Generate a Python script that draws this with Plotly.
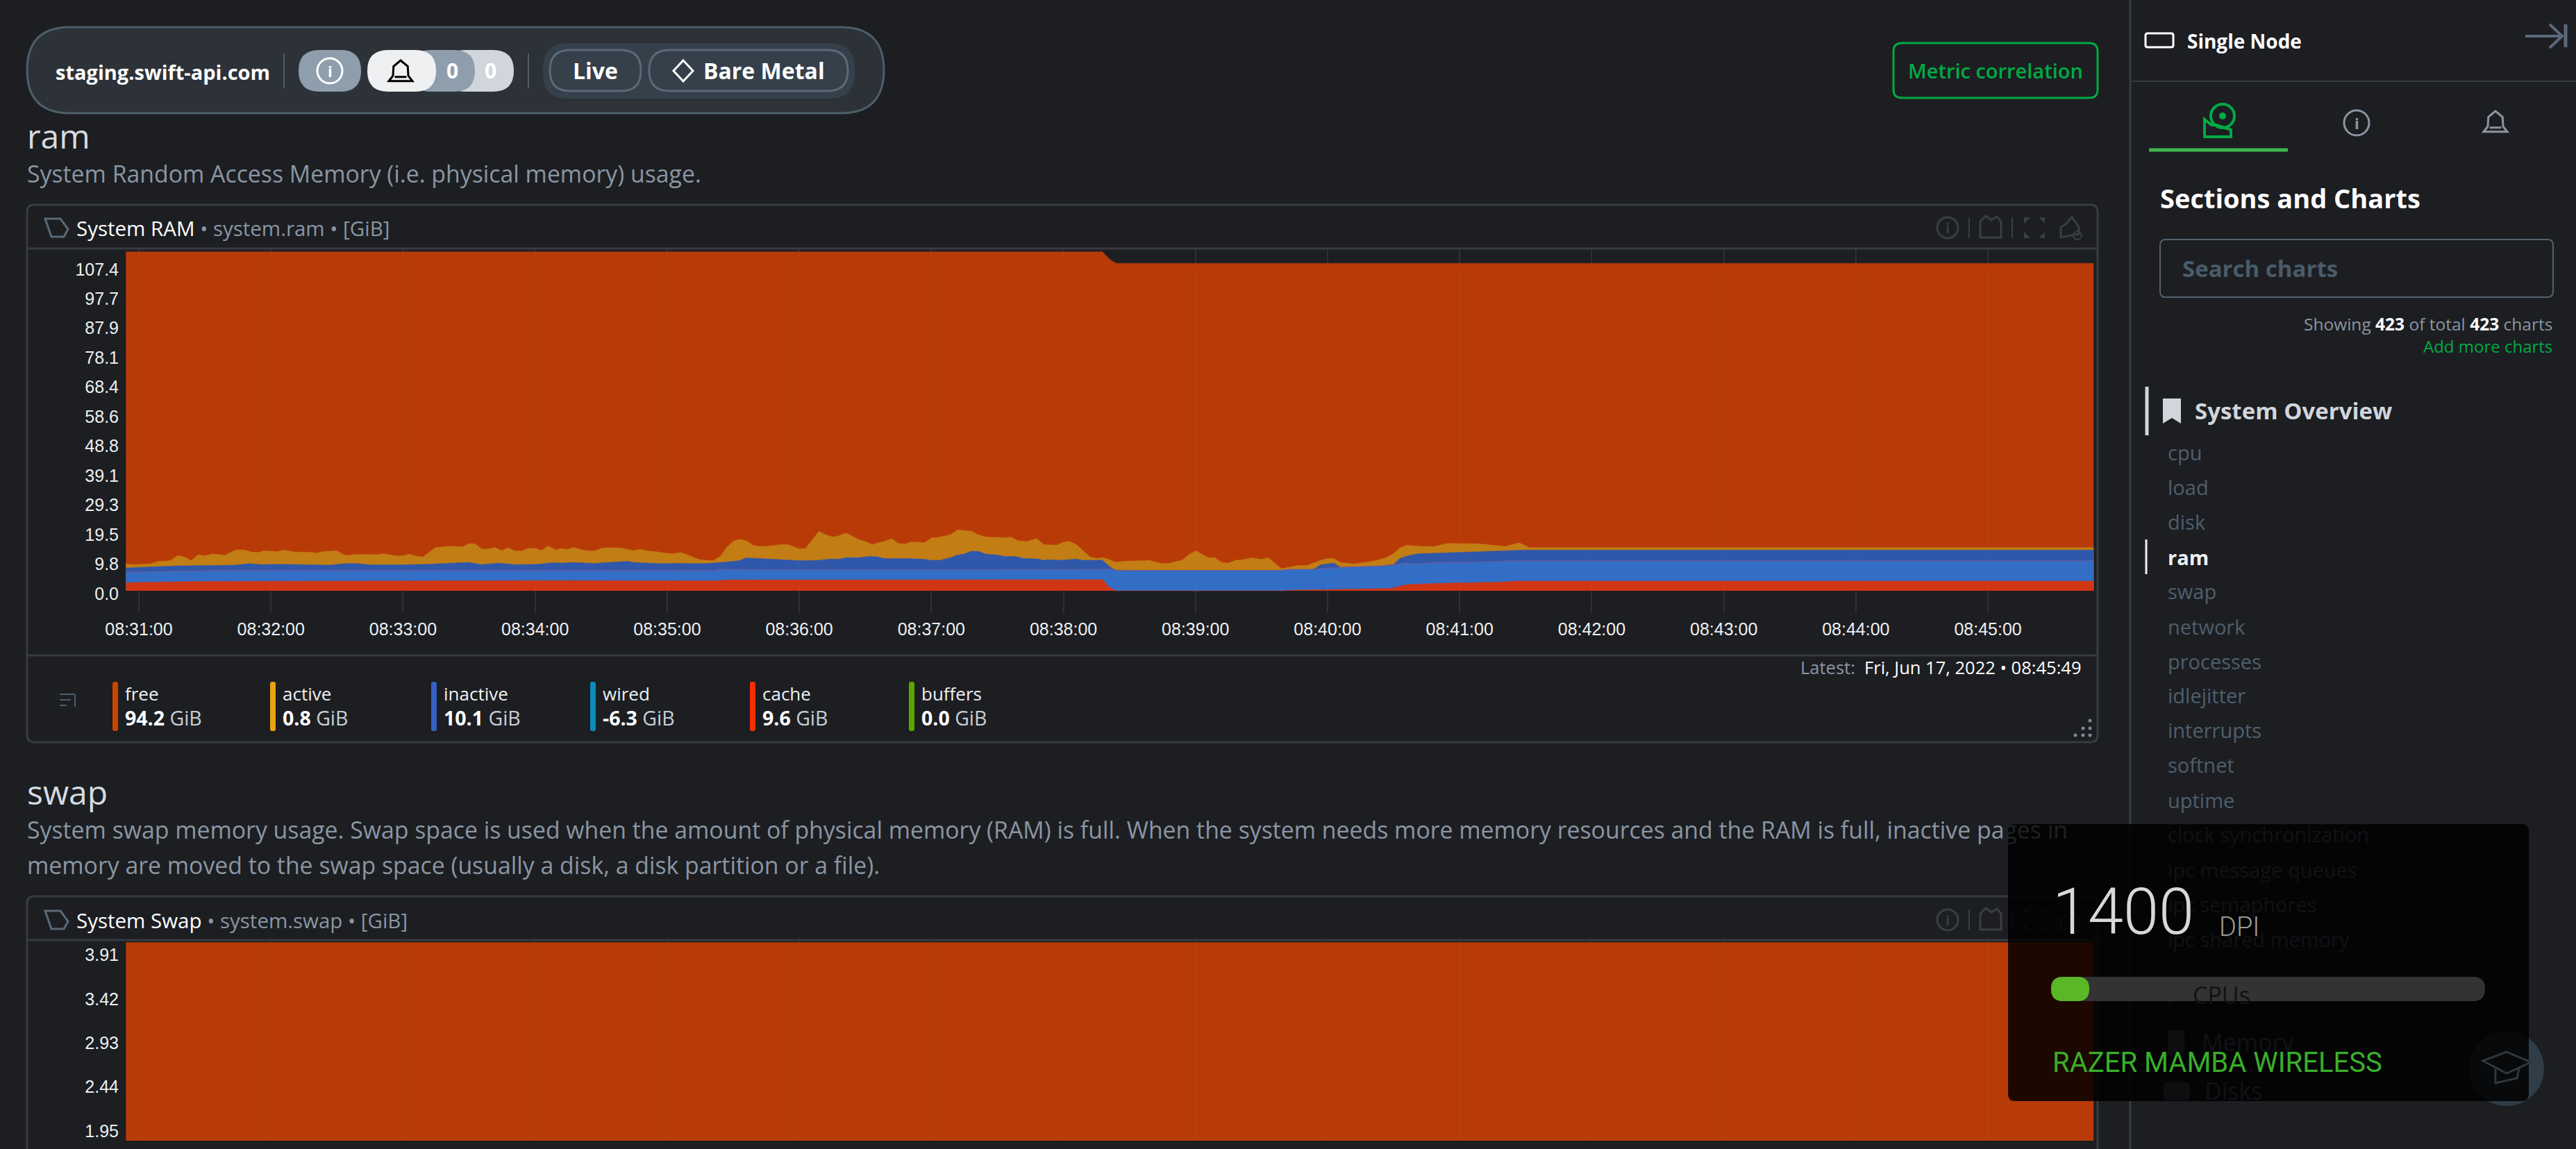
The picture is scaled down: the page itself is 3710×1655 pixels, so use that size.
import pandas as pd
import plotly.graph_objects as go

W, H = 3710, 1655

# everything, seconds are counted from 08:31:00
total_sec = [-5.9, 437.7, 440.9, 444, 888]
total_top = [112.3, 112.3, 109.9, 108.5, 108.5]

active_sec = [-5.9, -2.5, 5, 8.7, 14.3, 17.7, 20.8, 23.8, 26.8, 30.3, 33, 36.2, 38.9, 41.8, 44.6, 48.1, 51.4, 54.2,
              56.7, 63, 65.8, 71.1, 77.6, 80.4, 83.5, 89.8, 92.9, 95.4, 98.3, 107.9, 111, 114.1, 116.6, 120.1, 122.8,
              125.9, 129, 134.7, 140.9, 147.4, 149.6, 152.7, 155.9, 159, 161.8, 164.8, 167.8, 170.8, 173.9, 177,
              180.2, 183, 185.8,
              189.2, 191.9, 194.8, 197.7, 201, 204.2, 207, 209.8, 212.6, 219.1, 224.7, 227.9, 231, 236.6, 239.7,
              242.8, 246, 249, 252.2, 254.9, 260.9, 264, 267.1, 270, 273, 275.9, 279.2, 282.1, 285.8, 291.4, 294.6,
              297, 299.9, 302.9, 308.9, 312, 315.1, 318, 321.1, 327, 330.1, 333.2, 336.3, 338.8, 341.9, 345, 347.8,
              350.9, 356.9, 360, 363.1, 368.8, 371.9, 378.1, 381.2, 384.7,
              393.4, 395.9, 399.4, 403.4, 407.8, 411.1, 416.9, 419.9, 422.7, 425.8, 432.1, 435.2, 437.9, 440.8,
              443.9, 447, 452.7, 458.9, 464.5, 468, 473.9, 477, 480.1, 485.7, 488.8, 491.9, 495, 498.2, 501.3, 505.6,
              510, 513.1, 516.2, 519.1, 522.5, 526.8, 530.6, 533.3, 536.8, 539.9, 542.8, 545.8, 551.8, 560.5, 566.7,
              569.9, 573, 576.1,
              583.1, 588.7, 594.3, 608.6, 620.7, 627, 631.8, 888]
active_top = [8.9, 8.7, 8.9, 9.7, 10.0, 11.7, 11.2, 10.0, 11.9, 11.6, 12.2, 12.1, 11.7, 12.8, 13.6, 13.5, 12.8, 12.7,
              13.3, 13.0, 13.5, 12.8, 12.8, 12.5, 13.0, 13.3, 12.0, 11.7, 12.1, 12.0, 12.3, 12.0, 11.6, 11.6, 12.2,
              11.5, 11.2, 14.3, 14.8, 14.6, 15.6, 15.6, 13.8, 13.9, 14.3, 13.3, 14.3, 13.2, 13.2, 14.1,
              14.0, 13.4, 14.9,
              13.6, 14.0, 13.7, 14.4, 13.6, 13.2, 13.2, 14.0, 14.3, 14.2, 13.3, 13.8, 13.2, 12.8, 12.4,
              12.3, 12.7, 12.0, 11.0, 10.3, 10.0, 11.3, 14.4, 16.4, 17.1, 16.6, 15.0, 14.7, 14.8, 15.3, 15.3,
              14.8, 13.9, 14.1, 19.7, 18.6, 17.8, 18.2, 19.2, 17.0, 16.3, 15.3, 16.0, 16.4, 17.3, 15.7, 15.5,
              16.2, 16.0, 17.5, 17.7, 18.6, 20.2, 19.8, 18.6, 17.8,
              17.6, 17.9, 16.6, 16.3, 17.3, 15.3, 15.1, 16.1, 16.4, 15.4, 11.2, 10.7, 11.0, 10.4,
              9.4, 9.8, 9.9, 10.1, 9.1, 9.1, 10.2, 12.0, 13.3, 11.0, 11.0, 9.4, 9.2, 10.1, 10.3, 10.9,
              10.4, 11.0, 9.1, 7.3, 7.8, 8.4, 8.4, 9.1, 10.1, 10.7, 10.7, 9.4, 8.9, 9.8, 11.0,
              12.3, 14.3, 15.1,
              14.7, 14.7, 15.7, 15.6, 14.7, 15.9, 14.3, 14.3]

inactive_sec = [-5.9, 6.2, 18.7, 43.6, 49.9, 56.1, 63.6, 73.6, 86, 93.5, 99.1, 105.4, 118.5, 130.9, 149.6, 155.9,
                163.3, 170.8, 182, 185.8, 189.3,
                192.3, 196.7, 206.7, 216.6, 221.9, 224.7, 234.1, 237.2, 244, 256.5, 267.8, 272.7, 275.9, 291.4,
                300.2, 308.9, 313.9, 318.2, 321.4, 327, 331.3, 335.1, 338.8, 348.8, 356.3, 360, 363.8, 368.8,
                371.9, 375, 378.1, 381.2, 384.7,
                390.9, 393.4, 398.4, 402.2, 408.4, 410.9, 414, 418.4, 425.8, 429, 437.7, 441.4, 443.9, 484.5,
                519.1, 533.7, 536.8, 542.8, 545.8, 551.8, 559.3, 564.3, 569.9, 573, 576.1,
                581, 589.8, 607.6, 620.7, 629.6, 888]
inactive_top = [7.6, 8.0, 8.3, 8.5, 9.0, 8.7, 8.8, 8.7, 8.5, 9.0, 9.0, 8.6, 8.6, 8.8, 9.4, 8.7,
                9.2, 8.7, 8.8, 9.2, 9.3,
                9.2, 9.4, 9.1, 9.5, 9.8, 9.4, 9.2, 9.0, 9.1, 9.0, 9.6, 10.0, 10.9, 10.3,
                10.0, 10.1, 10.5, 10.5, 11.0, 11.0, 11.4, 11.3, 10.7, 10.7, 10.5, 10.1, 10.1, 11.0,
                11.9, 12.2, 13.1, 13.1, 12.2,
                11.8, 11.4, 11.4, 10.7, 10.6, 10.1, 10.3, 10.1, 10.5, 10.1, 10.2, 7.8, 6.8, 6.8,
                6.7, 7.1, 8.6, 9.2, 7.8, 7.8, 8.0, 8.2, 8.7, 10.8, 11.5,
                12.3, 12.5, 12.9, 13.3, 13.5, 13.5]

wired_sec = [-5.9, 18.7, 31, 189.3, 260.9, 263.8, 276.5, 384.7, 437.7, 440.8, 443.9, 479.5, 518.7, 521.9, 533.1,
             545.6, 569.2, 575.5, 580.2, 589.8, 618.5, 621.8, 888]
wired_top = [6.1, 6.4, 6.6, 6.7, 6.6, 7.1, 6.9, 6.9, 7.1, 7.3, 6.6, 6.7, 6.7, 7.0, 7.1,
             7.7, 8.3, 9.2, 8.9, 9.3, 9.6, 9.9, 9.9]

cache_sec = [-5.9, 6.2, 26.2, 189.3, 224.1, 251.5, 261.5, 267.1, 384.7, 438, 440.8, 443.9, 520, 521.9, 569.2,
             573, 576.6, 589.8, 618.5, 625, 888]
cache_top = [2.7, 2.9, 3.1, 3.4, 3.4, 3.3, 3.3, 3.6, 3.7, 3.7, 1.2, 0, 0, 0.2, 0.8,
             1.6, 2.1, 2.5, 2.9, 3.2, 3.2]

swap_sec = [-5.9, 888]
swap_free = [4.05, 4.05]

ram_ticks = [107.4, 97.7, 87.9, 78.1, 68.4, 58.6, 48.8, 39.1, 29.3, 19.5, 9.8, 0.0]
swap_ticks = [3.91, 3.42, 2.93, 2.44, 1.95]
time_labels = ["08:31:00", "08:32:00", "08:33:00", "08:34:00", "08:35:00", "08:36:00", "08:37:00", "08:38:00",
               "08:39:00", "08:40:00", "08:41:00", "08:42:00", "08:43:00", "08:44:00", "08:45:00"]

legend_names = ["free", "active", "inactive", "wired", "cache", "buffers"]
legend_values = ["94.2", "0.8", "10.1", "-6.3", "9.6", "0.0"]
legend_colors = ["#cc4400", "#e9a313", "#3560c4", "#0a8cbc", "#f53000", "#5ca600"]

nav_items = ["cpu", "load", "disk", "ram", "swap", "network", "processes", "idlejitter", "interrupts", "softnet",
             "uptime", "clock synchronization", "ipc message queues", "ipc semaphores", "ipc shared memory"]

BG = "#1c1e22"
EDGE = "#383b40"
GREY = "#8a96a2"
NAV = "#4f5f6d"
GREEN = "#00ab44"
UI = "Open Sans"
AXIS_FONT = "Liberation Sans"
DARK_TEXT = "#101215"


def fx(x):
    return x / W


def fy(y):
    return 1 - y / H


def when(sec):
    return pd.Timestamp("2022-06-17 08:31:00") + pd.to_timedelta(sec, unit="s")


shapes = []
notes = []


def path_shape(d, fill=None, edge=None, width=2):
    shapes.append(dict(type="path", xref="paper", yref="paper", path=d, fillcolor=fill or "rgba(0,0,0,0)",
                       line=dict(color=edge or "rgba(0,0,0,0)", width=width if edge else 0), layer="above"))


def box(x0, y0, x1, y1, fill=None, edge=None, r=0, width=2, open_bottom=False):
    a, b, c, d = fx(x0), fx(x1), fy(y0), fy(y1)
    rx, ry = r / W, r / H
    if open_bottom:
        p = f"M{a},{d} L{a},{c - ry} Q{a},{c} {a + rx},{c} L{b - rx},{c} Q{b},{c} {b},{c - ry} L{b},{d}"
    else:
        p = (f"M{a + rx},{c} L{b - rx},{c} Q{b},{c} {b},{c - ry} L{b},{d + ry} Q{b},{d} {b - rx},{d} "
             f"L{a + rx},{d} Q{a},{d} {a},{d + ry} L{a},{c - ry} Q{a},{c} {a + rx},{c} Z")
    path_shape(p, fill, edge, width)


def poly(points, fill=None, edge=None, width=2, close=True):
    p = "M" + " L".join(f"{fx(x)},{fy(y)}" for x, y in points) + (" Z" if close else "")
    path_shape(p, fill, edge, width)


def seg(x0, y0, x1, y1, color, width=2):
    shapes.append(dict(type="line", xref="paper", yref="paper", x0=fx(x0), x1=fx(x1), y0=fy(y0), y1=fy(y1),
                       line=dict(color=color, width=width), layer="above"))


def ring(cx, cy, r, fill=None, edge=None, width=2):
    shapes.append(dict(type="circle", xref="paper", yref="paper", x0=fx(cx - r), x1=fx(cx + r), y0=fy(cy + r),
                       y1=fy(cy - r), fillcolor=fill or "rgba(0,0,0,0)",
                       line=dict(color=edge or "rgba(0,0,0,0)", width=width if edge else 0), layer="above"))


def text(x, y, s, size, color="#ffffff", anchor="left", font=UI, weight=400):
    # annotations sit about 2px low against the screenshot
    notes.append(dict(x=fx(x), y=fy(y - 2), xref="paper", yref="paper", text=s, showarrow=False, xanchor=anchor,
                      yanchor="middle", borderpad=0, borderwidth=0, align=anchor,
                      font=dict(family=font, size=size, color=color, weight=weight)))


def bell(cx, cy, s, edge, width=3):
    poly([(cx - s, cy + s * 0.75), (cx - s * 0.65, cy + s * 0.3), (cx - s * 0.6, cy - s * 0.5), (cx, cy - s),
          (cx + s * 0.6, cy - s * 0.5), (cx + s * 0.65, cy + s * 0.3), (cx + s, cy + s * 0.75)], None, edge, width)
    seg(cx - s * 0.5, cy + s * 0.4, cx + s * 0.5, cy + s * 0.4, edge, width)


def panel_head(top, title, sub):
    poly([(65, top + 20), (87, top + 20), (98, top + 35), (92, top + 46), (74, top + 46)], None, "#586978", 3)
    text(110, top + 35, f'{title} <span style="color:{GREY}">• {sub} • [GiB]</span>', 29.5)
    ring(2805, top + 33, 15, None, "#3a3d42", 3)
    text(2805, top + 35, "i", 20, "#3a3d42", "center", weight=700)
    seg(2836, top + 18, 2836, top + 48, "#3a3d42", 2)
    seg(2898, top + 18, 2898, top + 48, "#3a3d42", 2)
    poly([(2852, top + 24), (2860, top + 16), (2868, top + 22), (2876, top + 17), (2882, top + 24), (2882, top + 47),
          (2852, top + 47)], None, "#3a3d42", 3)
    for dx, dy in [(-1, -1), (1, -1), (-1, 1), (1, 1)]:
        poly([(2930 + dx * 15, top + 33 + dy * 15), (2930 + dx * 6, top + 33 + dy * 15),
              (2930 + dx * 15, top + 33 + dy * 6)], "#3a3d42", None)
    poly([(2968, top + 47), (2968, top + 32), (2975, top + 28), (2984, top + 18), (2994, top + 32), (2994, top + 42)],
         None, "#3a3d42", 3)
    ring(2992, top + 44, 6, None, "#3a3d42", 2)


# faint time grid that shows through the areas
for lab in time_labels:
    for ref, y0, y1 in [("x", 359, 883), ("x2", 1355, 1643)]:
        stamp = f"2022-06-17 {lab}"
        shapes.append(dict(type="line", xref=ref, yref="paper", x0=stamp, x1=stamp, y0=fy(y0), y1=fy(y1),
                           line=dict(color="rgba(255,255,255,0.015)", width=2), layer="above"))

# header pill
box(39, 39, 1273, 163, "#2d3238", "#4d5e6b", 62, 3)
text(80, 105, "staging.swift-api.com", 29, weight=700)
seg(409, 77, 409, 127, "#4d5e6b", 2)
box(430, 72, 520, 132, "#8f9ead", None, 30)
ring(475, 102, 18, None, "#ffffff", 3)
text(475, 104, "i", 22, "#ffffff", "center", weight=700)
box(640, 72, 740, 132, "#d1d5dc", None, 30)
box(590, 72, 684, 132, "#8f9ead", None, 30)
box(529, 72, 628, 132, "#eef0f2", None, 30)
bell(577, 104, 17, "#000000")
text(651, 104, "0", 30, weight=700, anchor="center")
text(706, 104, "0", 30, weight=700, anchor="center")
seg(761, 77, 761, 127, "#4d5e6b", 2)
box(782, 62, 1231, 142, "#35404a", None, 36)
box(792, 72, 923, 131, "#35404a", "#5a6a76", 29, 3)
text(857, 104, "Live", 32, anchor="center", weight=700)
box(935, 72, 1221, 131, "#35404a", "#5a6a76", 29, 3)
poly([(984, 87), (998, 102), (984, 117), (970, 102)], None, "#ffffff", 3)
text(1100, 104, "Bare Metal", 32, anchor="center", weight=700)

box(2727, 62, 3021, 141, None, GREEN, 12, 3)
text(2874, 103, "Metric correlation", 29, GREEN, "center", weight=600)

# ram section
text(39, 198, "ram", 48, "#d7dbe0")
text(39, 252, "System Random Access Memory (i.e. physical memory) usage.", 33.8, GREY)
box(39, 295, 3021, 1069, None, EDGE, 10, 3)
seg(39, 358, 3021, 358, EDGE, 3)
seg(39, 944, 3021, 944, EDGE, 3)
panel_head(295, "System RAM", "system.ram")
text(2998, 963, f'<span style="color:{GREY}">Latest:</span>  Fri, Jun 17, 2022 • 08:45:49', 25.5, anchor="right")
for dx, dy in [(3010, 1038), (3010, 1049), (3000, 1049), (3010, 1059), (3000, 1059), (2989, 1059)]:
    ring(dx, dy, 2.5, "#7a8794")

seg(86, 1000, 108, 1000, "#4d5e6b", 2)
seg(86, 1008, 102, 1008, "#4d5e6b", 2)
seg(86, 1016, 96, 1016, "#4d5e6b", 2)
seg(108, 1000, 108, 1018, "#4d5e6b", 2)
legend_x = [166, 393, 625, 854, 1084, 1313]
for x, name, value, color in zip(legend_x, legend_names, legend_values, legend_colors):
    box(x - 4, 982, x + 4, 1053, color, None, 3)
    text(x + 14, 1001, name, 26, "#eef0f2")
    text(x + 14, 1036, f'<b>{value}</b> <span style="color:#c9ced4">GiB</span>', 28.5)

# swap section
text(39, 1142, "swap", 48, "#d7dbe0")
text(39, 1197, f'<span style="color:{GREY}">System swap memory usage. Swap space is used when the amount of physical '
               "memory (RAM) is full. When the system needs more memory resources and the RAM is full, inactive pa"
               '</span><span style="color:#1e2124">ges in</span>', 33.8)
text(39, 1248, "memory are moved to the swap space (usually a disk, a disk partition or a file).", 33.8, GREY)
box(39, 1291, 3021, 1655, None, EDGE, 10, 3, open_bottom=True)
seg(39, 1354, 3021, 1354, EDGE, 3)
panel_head(1292, "System Swap", "system.swap")

# sidebar
seg(3068, 0, 3068, H, EDGE, 3)
box(3090, 48, 3130, 68, None, "#ffffff", 3, 3)
text(3150, 61, "Single Node", 28, weight=700)
seg(3637, 52, 3690, 52, "#59697a", 4)
poly([(3672, 35), (3690, 52), (3672, 69)], None, "#59697a", 4, close=False)
seg(3695, 35, 3695, 68, "#59697a", 5)
seg(3070, 117, W, 117, EDGE, 2)
ring(3201, 167, 17, None, "#00ab44", 4)
ring(3201, 167, 5, "#00ab44")
poly([(3175, 172), (3175, 197), (3213, 197), (3213, 187), (3192, 180), (3185, 180)], None, "#00ab44", 4)
ring(3394, 177, 18, None, GREY, 3)
text(3394, 179, "i", 22, GREY, "center", weight=700)
bell(3594, 177, 17, GREY)
seg(3095, 216, 3295, 216, "#3eb54f", 5)
text(3111, 287, "Sections and Charts", 38, weight=700)
box(3111, 345, 3677, 428, None, "#53616e", 8, 2)
text(3143, 388, "Search charts", 33, "#4a5b69", weight=700)
text(3676, 468, f'<span style="color:{GREY}">Showing <b style="color:#fff">423</b> of total '
                f'<b style="color:#fff">423</b> charts</span>', 24.5, anchor="right")
text(3676, 500, "Add more charts", 24, GREEN, "right")
seg(3092, 557, 3092, 627, "#d1d5dc", 5)
poly([(3115, 574), (3141, 574), (3141, 610), (3128, 602), (3115, 610)], "#d1d5dc")
text(3161, 593, "System Overview", 33, "#d1d5dc", weight=700)
seg(3091, 777, 3091, 827, "#eef0f2", 3)
nav_y = [653, 703, 753, 805, 854, 904, 954, 1003, 1053, 1103, 1154, 1203, 1254, 1304, 1354]
for name, y in zip(nav_items, nav_y):
    if name == "ram":
        text(3122, y, name, 29, "#eef0f2", weight=700)
    elif y > 1187:
        text(3122, y, name, 29, DARK_TEXT)
    else:
        text(3122, y, name, 29, NAV)
text(3158, 1435, "CPUs", 34, DARK_TEXT)
text(3171, 1503, "Memory", 34, DARK_TEXT)
text(3175, 1573, "Disks", 34, DARK_TEXT)
# section icons, the popup darkens them
poly([(3122, 1416), (3137, 1416), (3132, 1430), (3137, 1430), (3122, 1449), (3125, 1434), (3116, 1434)], NAV)
box(3122, 1484, 3146, 1520, NAV, None, 4)
box(3116, 1559, 3154, 1585, NAV, None, 6)

# help button sits under the popup
ring(3610, 1539, 54, "#2f3d48")

# mouse dpi popup on top of everything
box(2892, 1187, 3642, 1586, "rgba(0,0,0,0.85)", None, 10)
box(2954, 1407, 3579, 1442, "#333333", None, 17)
box(2954, 1407, 3009, 1442, "#5ab827", None, 17)
text(2956, 1315, "1400", 92, "#d8d8d8", font="Roboto", weight=300)
text(3196, 1337, "DPI", 38, "#9a9a9a", font="Roboto", weight=300)
text(2956, 1532, "RAZER MAMBA WIRELESS", 40, "#3aae2a", font="Roboto")
poly([(3576, 1528), (3610, 1515), (3645, 1530), (3610, 1546)], None, "#33373b", 3)
poly([(3594, 1540), (3594, 1560), (3625, 1553), (3628, 1539)], None, "#33373b", 3, close=False)


def area(sec, top, name, color):
    return go.Scatter(x=when(sec), y=top, name=name, mode="lines", fill="tozeroy", fillcolor=color,
                      line=dict(color=color, width=0.5), hoverinfo="skip", showlegend=False)


fig = go.Figure()
# painted back to front, each layer reaches down to zero and hides the rest of the one behind
for sec, top, name, color in [
    (total_sec, total_top, "free", "#b83b07"),
    (active_sec, active_top, "active", "#c27d14"),
    (inactive_sec, inactive_top, "inactive", "#3058aa"),
    (wired_sec, wired_top, "wired", "#326ec6"),
    (cache_sec, cache_top, "cache", "#d03514"),
]:
    fig.add_trace(area(sec, top, name, color))
fig.add_trace(go.Scatter(x=when(wired_sec), y=wired_top, mode="lines", line=dict(color="#5f5fa5", width=1.5),
                         hoverinfo="skip", showlegend=False))

swap_trace = area(swap_sec, swap_free, "free", "#b83b07")
swap_trace.update(xaxis="x2", yaxis="y2")
fig.add_trace(swap_trace)

x_range = [when(-6), when(889.5)]
x_stamps = [f"2022-06-17 {lab}" for lab in time_labels]
x_common = dict(type="date", range=x_range, domain=[fx(181), fx(3020)], tickmode="array", tickvals=x_stamps,
                ticktext=time_labels, showgrid=True, gridcolor="#2c2e31", gridwidth=2, zeroline=False,
                showline=False, automargin=False, ticks="outside", ticklen=1, tickcolor="rgba(0,0,0,0)",
                tickfont=dict(family=AXIS_FONT, size=25, color="#f0f0f0"))
y_common = dict(showgrid=False, zeroline=False, showline=False, automargin=False, tickmode="array", ticks="outside",
                ticklen=4, tickcolor="rgba(0,0,0,0)", tickfont=dict(family=AXIS_FONT, size=25, color="#f0f0f0"))

# dygraph prints the labels a little below their real level
label_nudge = 0.9

fig.update_layout(
    width=W, height=H, autosize=False, template="none",
    margin=dict(l=0, r=0, t=0, b=0, pad=0),
    paper_bgcolor=BG, plot_bgcolor=BG, showlegend=False,
    xaxis=dict(x_common, anchor="y"),
    yaxis=dict(y_common, domain=[fy(883), fy(359)], range=[-7.36, 113.15], anchor="x",
               tickvals=[v - label_nudge for v in ram_ticks], ticktext=[f"{v:.1f}" for v in ram_ticks]),
    xaxis2=dict(x_common, anchor="y2", showticklabels=False),
    yaxis2=dict(y_common, domain=[fy(1643), fy(1355)], range=[1.84, 4.07], anchor="x2",
                tickvals=swap_ticks, ticktext=[f"{v:.2f}" for v in swap_ticks]),
    shapes=shapes, annotations=notes,
)

fig.write_html("out.html", config=dict(displayModeBar=False),
               post_script="document.body.style.margin='0';document.body.style.overflow='hidden';")
